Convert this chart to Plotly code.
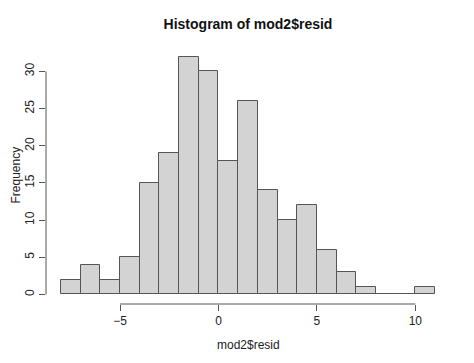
import plotly.graph_objects as go

bin_edges = list(range(-8, 12))
counts = [2, 4, 2, 5, 15, 19, 32, 30, 18, 26, 14, 10, 12, 6, 3, 1, 0, 0, 1]
x_ticks = [-5, 0, 5, 10]
y_ticks = [0, 5, 10, 15, 20, 25, 30]

mids = [(bin_edges[i] + bin_edges[i + 1]) / 2 for i in range(len(counts))]
widths = [bin_edges[i + 1] - bin_edges[i] for i in range(len(counts))]

fig = go.Figure()
fig.add_trace(go.Bar(
    x=mids, y=counts, width=widths,
    marker=dict(color="#d3d3d3", line=dict(color="#555555", width=1)),
    hoverinfo="x+y",
))

font = dict(family="Liberation Sans, Arial, sans-serif", size=12, color="#222222")

span = bin_edges[-1] - bin_edges[0]
xr = [bin_edges[0] - 0.04 * span, bin_edges[-1] + 0.04 * span]
ymax = max(counts)
yr = [-0.04 * ymax, ymax * 1.04]

# page body has an 8px default margin; figure sized to fit the window
W, H = 458, 347
L, T, PW, PH = 38, 39, 404, 257

fig.update_layout(
    width=W, height=H,
    margin=dict(l=L, r=W - L - PW, t=T, b=H - T - PH, autoexpand=False),
    paper_bgcolor="white", plot_bgcolor="white",
    showlegend=False, bargap=0,
    font=font,
    title=dict(text="<b>Histogram of mod2$resid</b>", x=240 / W, xanchor="center",
               y=1 - 16 / H, yanchor="middle",
               font=dict(family="Liberation Sans, Arial, sans-serif", size=14, color="#111111")),
    xaxis=dict(range=xr, tickvals=x_ticks, ticks="outside", ticklen=6, tickcolor="#555555",
               showgrid=False, zeroline=False, showline=False, tickfont=font, automargin=False),
    yaxis=dict(range=yr, tickvals=y_ticks, ticks="outside", ticklen=6, tickcolor="#555555",
               tickangle=-90, showgrid=False, zeroline=False, showline=False, tickfont=font,
               automargin=False),
)

# R-style axis lines spanning first to last tick
fig.add_shape(type="line", xref="x", yref="paper", x0=x_ticks[0], x1=x_ticks[-1], y0=0, y1=0,
              line=dict(color="#555555", width=1))
fig.add_shape(type="line", xref="paper", yref="y", x0=0, x1=0, y0=y_ticks[0], y1=y_ticks[-1],
              line=dict(color="#555555", width=1))

fig.add_annotation(text="mod2$resid", xref="paper", yref="paper", x=0.5, y=-41 / PH,
                   xanchor="center", yanchor="middle", showarrow=False, font=font)
fig.add_annotation(text="Frequency", xref="paper", yref="paper", x=(7 - L) / PW, y=0.5,
                   xanchor="center", yanchor="middle", textangle=-90, showarrow=False, font=font)

fig.write_html("out.html")
